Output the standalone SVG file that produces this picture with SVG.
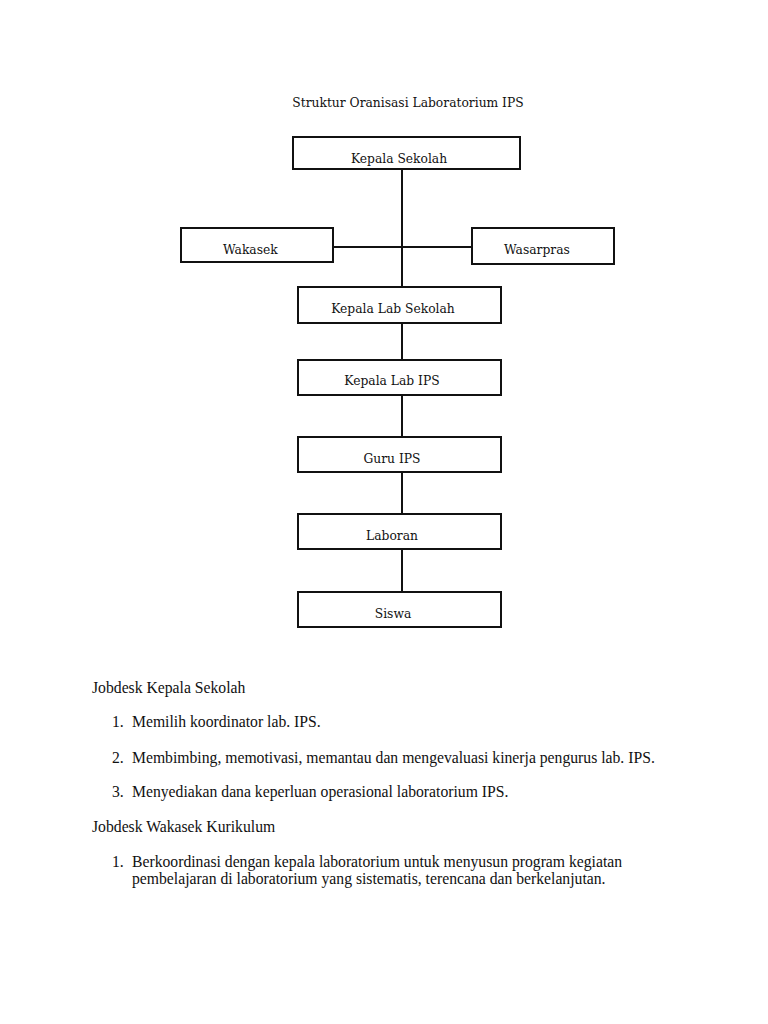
<svg xmlns="http://www.w3.org/2000/svg" width="768" height="1024" viewBox="0 0 768 1024">
<style>
.box{fill:#fff;stroke:#111;stroke-width:2}
.ln{stroke:#111;stroke-width:2;fill:none}
.d{font-family:"DejaVu Serif",serif;font-size:12.3px;fill:#111}
.t{font-family:"Liberation Serif",serif;font-size:15.7px;fill:#111}
</style>
<rect width="768" height="1024" fill="#fff"/>
<text class="d" x="408" y="107" text-anchor="middle">Struktur Oranisasi Laboratorium IPS</text>
<g id="connectors">
<line class="ln" x1="402" y1="169" x2="402" y2="287"/>
<line class="ln" x1="333" y1="247" x2="472" y2="247"/>
<line class="ln" x1="402" y1="323" x2="402" y2="360"/>
<line class="ln" x1="402" y1="395" x2="402" y2="437"/>
<line class="ln" x1="402" y1="472" x2="402" y2="514"/>
<line class="ln" x1="402" y1="549" x2="402" y2="592"/>
</g>
<g id="kepala-sekolah"><rect class="box" x="293" y="137" width="227" height="32"/><text class="d" x="399" y="163" text-anchor="middle">Kepala Sekolah</text></g>
<g id="wakasek"><rect class="box" x="181" y="228" width="152" height="34"/><text class="d" x="223" y="254">Wakasek</text></g>
<g id="wasarpras"><rect class="box" x="472" y="228" width="142" height="36"/><text class="d" x="504" y="254">Wasarpras</text></g>
<g id="kepala-lab-sekolah"><rect class="box" x="298" y="287" width="203" height="36"/><text class="d" x="393" y="313" text-anchor="middle">Kepala Lab Sekolah</text></g>
<g id="kepala-lab-ips"><rect class="box" x="298" y="360" width="203" height="35"/><text class="d" x="392" y="385" text-anchor="middle">Kepala Lab IPS</text></g>
<g id="guru-ips"><rect class="box" x="298" y="437" width="203" height="35"/><text class="d" x="392" y="463" text-anchor="middle">Guru IPS</text></g>
<g id="laboran"><rect class="box" x="298" y="514" width="203" height="35"/><text class="d" x="392" y="540" text-anchor="middle">Laboran</text></g>
<g id="siswa"><rect class="box" x="298" y="592" width="203" height="35"/><text class="d" x="393" y="618" text-anchor="middle">Siswa</text></g>
<text class="t" x="92" y="693">Jobdesk Kepala Sekolah</text>
<text class="t" x="112" y="727">1.</text><text class="t" x="132" y="727">Memilih koordinator lab. IPS.</text>
<text class="t" x="112" y="763">2.</text><text class="t" x="132" y="763">Membimbing, memotivasi, memantau dan mengevaluasi kinerja pengurus lab. IPS.</text>
<text class="t" x="112" y="797">3.</text><text class="t" x="132" y="797">Menyediakan dana keperluan operasional laboratorium IPS.</text>
<text class="t" x="92" y="832">Jobdesk Wakasek Kurikulum</text>
<text class="t" x="112" y="867">1.</text><text class="t" x="132" y="867">Berkoordinasi dengan kepala laboratorium untuk menyusun program kegiatan</text>
<text class="t" x="132" y="884">pembelajaran di laboratorium yang sistematis, terencana dan berkelanjutan.</text>
</svg>
